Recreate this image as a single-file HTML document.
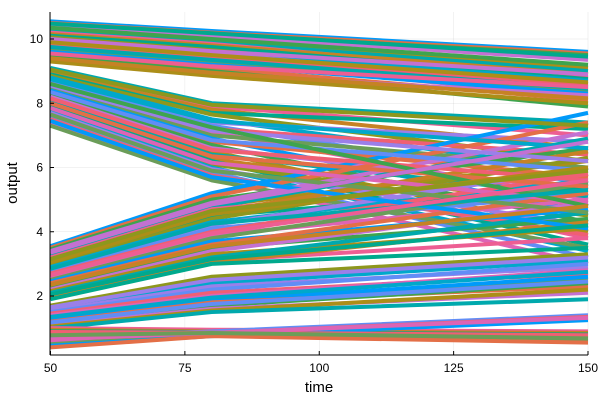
<!DOCTYPE html>
<html><head><meta charset="utf-8"><style>
body{margin:0;background:#fff}
svg{display:block;font-family:"Liberation Sans",sans-serif}
</style></head><body>
<svg id="chart" width="600" height="400">
<rect width="600" height="400" fill="#fff"/>
<g id="grid"></g>
<g id="lines"></g>
<g id="axes"></g>
<text x="319" y="392" font-size="15" text-anchor="middle">time</text>
<text transform="translate(17,183) rotate(-90)" font-size="15" text-anchor="middle">output</text>
</svg>
<script>
const times = [50, 80, 150];
const v50 = [10.55,10.5,10.45,10.4,10.3,10.25,10.2,10.15,10.1,10.05,10.0,9.95,9.85,9.8,9.7,9.65,9.6,9.5,9.45,9.35,9.3,
9.1,9.0,8.95,8.9,8.85,8.8,8.7,8.65,8.6,8.5,8.45,8.4,8.3,8.25,8.2,8.1,8.05,8.0,7.95,7.9,7.8,7.75,7.7,7.6,7.5,7.4,7.3,
3.55,3.5,3.45,3.4,3.3,3.25,3.2,3.1,3.0,2.95,2.9,2.8,2.75,2.7,2.6,2.5,2.45,2.4,2.3,2.2,2.15,2.1,2.0,1.95,1.9,
1.7,1.6,1.55,1.5,1.45,1.4,1.3,1.25,1.2,1.15,1.1,1.05,1.0,
1.0,0.95,0.9,0.85,0.8,0.75,0.7,0.6,0.55,0.5,0.45,0.4,
10.35,10.0,9.9,9.75,9.55,9.4,10.48,
9.05,8.75,8.55,8.35,8.15,7.85,7.65,7.45,8.0,8.6,
3.35,3.05,2.85,2.65,2.35,2.05,3.15,
1.35,1.65,1.18,
0.88,0.65,0.78];
const v80 = [10.25,10.2,10.15,10.1,9.95,9.9,9.85,9.8,9.75,9.65,9.6,9.55,9.45,9.4,9.3,9.25,9.2,9.1,9.0,8.9,8.85,
8.0,7.9,7.8,7.7,7.65,7.5,7.4,7.3,7.2,7.1,7.0,6.9,6.8,6.7,6.6,6.5,6.4,6.3,6.25,6.2,6.1,6.0,5.95,5.85,5.75,5.65,5.6,
5.2,5.1,5.0,4.9,4.8,4.75,4.7,4.6,4.5,4.4,4.3,4.2,4.1,4.0,3.9,3.8,3.7,3.6,3.5,3.4,3.3,3.2,3.1,3.05,3.0,
2.6,2.4,2.3,2.2,2.1,2.0,1.9,1.85,1.8,1.7,1.6,1.55,1.5,
0.95,0.9,0.88,0.85,0.85,0.85,0.9,0.85,0.8,0.8,0.75,0.75,
10.0,9.62,9.5,9.35,9.15,8.95,10.18,
7.95,7.45,7.15,6.85,6.55,6.15,5.9,5.7,6.35,7.25,
4.85,4.55,4.25,3.95,3.55,3.15,4.65,
1.95,2.5,1.75,
0.86,0.85,0.85];
const v150 = [9.6,9.55,9.5,9.35,9.1,9.0,8.8,8.9,8.75,8.6,8.7,8.5,8.35,8.55,8.2,8.4,8.3,8.1,7.9,8.25,8.0,
7.4,7.0,6.6,7.2,6.2,5.9,6.8,5.5,6.4,5.0,6.0,4.6,5.7,4.3,5.3,4.0,5.1,3.8,4.8,3.6,4.5,3.4,4.2,3.2,3.9,3.0,3.5,
7.7,7.4,6.6,7.1,6.2,6.9,5.8,6.5,5.4,6.3,5.6,6.0,5.2,5.8,5.0,5.5,4.7,5.2,4.4,4.9,4.1,4.6,3.8,4.3,3.5,
3.3,3.1,2.9,3.0,2.7,2.8,2.5,2.6,2.3,2.4,2.1,2.2,1.9,
0.9,0.85,0.8,0.75,0.7,0.65,1.4,1.35,1.3,0.6,1.25,0.55,
9.2,8.9,8.65,8.45,8.5,8.15,9.45,
7.3,6.6,6.2,5.9,5.6,4.9,4.6,4.1,5.4,4.8,
6.8,6.0,5.3,5.6,4.8,4.2,5.9,
2.75,3.2,2.45,
0.78,1.32,0.68];
const xTicks = [50, 75, 100, 125, 150];
const yTicks = [2, 4, 6, 8, 10];
const palette = ["#009AFA","#E36F47","#3EA44E","#C371D2","#AC8E18","#00A9AD","#ED5E93","#C68225","#00A98D","#8E971D","#00A8CB","#9B7FE9","#618DF6","#F05F73","#DD64B5","#6B9D59"];
const NS = "http://www.w3.org/2000/svg";
const xs = t => 50.5 + (t - 50) * 5.375;
const ys = v => 296 - (v - 2) * 32.125;
const grid = document.getElementById('grid'), lines = document.getElementById('lines'), axes = document.getElementById('axes');
function mk(tag, attrs, parent){const e=document.createElementNS(NS,tag);for(const k in attrs)e.setAttribute(k,attrs[k]);parent.appendChild(e);return e;}
xTicks.forEach(t=>{
  const g = mk('line',{x1:xs(t),x2:xs(t),y1:12,y2:355,stroke:'#000','stroke-opacity':0.1,'stroke-width':0.5},grid);
  
  
  const tk = mk('line',{x1:xs(t),x2:xs(t),y1:355,y2:351,stroke:'#000','stroke-width':1},axes);
  
  
  const lb = mk('text',{x:xs(t),y:372,'font-size':12,'text-anchor':'middle'},axes);
  lb.textContent = t;
  
  
});
yTicks.forEach(v=>{
  const g = mk('line',{x1:50,x2:588,y1:ys(v),y2:ys(v),stroke:'#000','stroke-opacity':0.1,'stroke-width':0.5},grid);
  
  
  const tk = mk('line',{x1:50,x2:54,y1:ys(v),y2:ys(v),stroke:'#000','stroke-width':1},axes);
  
  
  const lb = mk('text',{x:43,y:ys(v)+4,'font-size':12,'text-anchor':'end'},axes);
  lb.textContent = v;
  
  
});
for(let i=0;i<v50.length;i++){
  const vals=[v50[i],v80[i],v150[i]];
  const pts = vals.map((v,j)=>xs(times[j])+','+ys(v)).join(' ');
  const p = mk('polyline',{points:pts,fill:'none',stroke:palette[i%palette.length],'stroke-width':4,'stroke-linejoin':'round'},lines);
  
  
}
const ax1 = mk('line',{x1:50,x2:50,y1:12,y2:355,stroke:'#000','stroke-width':1},axes);


const ax2 = mk('line',{x1:50,x2:588,y1:355,y2:355,stroke:'#000','stroke-width':1},axes);


</script>
</body></html>
